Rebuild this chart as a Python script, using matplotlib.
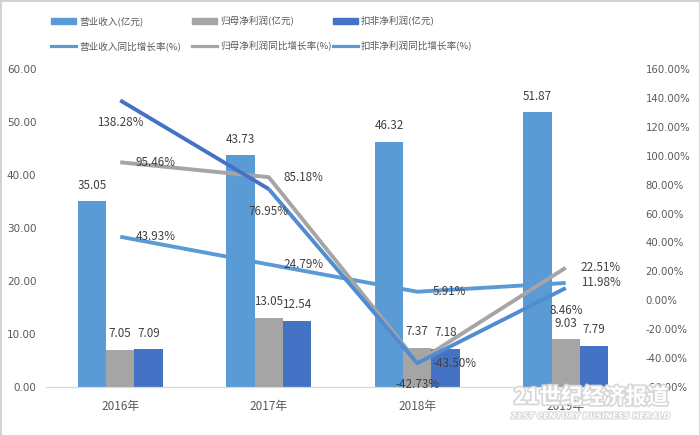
import numpy as np
import matplotlib
matplotlib.use('Agg')
from matplotlib import pyplot as plt
from matplotlib.lines import Line2D
from matplotlib.patches import Rectangle
import matplotlib.patheffects as pe

plt.rcParams['font.family'] = ['Noto Sans CJK SC', 'DejaVu Sans']

years = ['2016年', '2017年', '2018年', '2019年']
revenue = [35.05, 43.73, 46.32, 51.87]
parent_profit = [7.05, 13.05, 7.37, 9.03]
core_profit = [7.09, 12.54, 7.18, 7.79]
revenue_growth = [43.93, 24.79, 5.91, 11.98]
parent_growth = [95.46, 85.18, -42.73, 22.51]
core_growth = [138.28, 76.95, -43.50, 8.46]

bar_names = ['营业收入(亿元)', '归母净利润(亿元)', '扣非净利润(亿元)']
line_names = ['营业收入同比增长率(%)', '归母净利润同比增长率(%)', '扣非净利润同比增长率(%)']
left_ticks = [0, 10, 20, 30, 40, 50, 60]
right_ticks = [-60, -40, -20, 0, 20, 40, 60, 80, 100, 120, 140, 160]

# where each growth label sits relative to its point
revenue_pos = ['right', 'right', 'right', 'right']
parent_pos = ['right', 'right', 'below', 'right']
core_pos = ['below', 'below', 'right', 'below']

c_rev = '#5B9BD5'
c_gray = '#A5A5A5'
c_dark = '#4472C4'
c_core2 = '#4F8CD2'
txt = '#404040'
tick_c = '#595959'
lw = 2.8

fig = plt.figure(figsize=(7, 4.36), dpi=100)
ax = fig.add_axes([46 / 700, 49 / 436, 594 / 700, 318 / 436])
ax2 = ax.twinx()

x = np.arange(len(years))
w = 0.19
for off, vals, col in [(-w, revenue, c_rev), (0, parent_profit, c_gray), (w, core_profit, c_dark)]:
    ax.bar(x + off, vals, width=w, color=col, zorder=2)
    for xi, v in zip(x + off, vals):
        ax.annotate(f'{v:.2f}', (xi, v), xytext=(0, 11.5), textcoords='offset points',
                    ha='center', va='center', fontsize=8.4, color=txt)

ax.set_xlim(-0.5, 3.5)
ax.set_ylim(0, 60)
ax2.set_ylim(-60, 160)
ax.set_yticks(left_ticks)
ax.set_yticklabels([f'{t:.2f}' for t in left_ticks], family='DejaVu Sans', fontsize=7.5, color=tick_c)
ax2.set_yticks(right_ticks)
ax2.set_yticklabels([f'{t:.2f}%' for t in right_ticks], family='DejaVu Sans', fontsize=7.3, color=tick_c)
ax.set_xticks(x)
ax.set_xticklabels(years, fontsize=8.5, color=tick_c)
ax.tick_params(axis='both', length=0)
ax.tick_params(axis='y', pad=7)
ax.tick_params(axis='x', pad=9)
ax2.tick_params(axis='y', length=0, pad=4)
for a in (ax, ax2):
    for s in ['top', 'left', 'right']:
        a.spines[s].set_visible(False)
    a.spines['bottom'].set_color('#D9D9D9')

ax2.plot(x, revenue_growth, color=c_rev, lw=lw, solid_capstyle='butt', zorder=3)
ax2.plot(x, parent_growth, color=c_gray, lw=lw, solid_capstyle='butt', zorder=3)
ax2.plot(x[:2], core_growth[:2], color=c_dark, lw=lw, solid_capstyle='butt', zorder=3)
ax2.plot(x[1:], core_growth[1:], color=c_core2, lw=lw, solid_capstyle='butt', zorder=3)

for vals, poss in [(revenue_growth, revenue_pos), (parent_growth, parent_pos), (core_growth, core_pos)]:
    for xi, v, p in zip(x, vals, poss):
        if p == 'right':
            ax2.annotate(f'{v:.2f}%', (xi, v), xytext=(10.8, 0), textcoords='offset points',
                         ha='left', va='center', fontsize=8.4, color=txt, zorder=5)
        else:
            ax2.annotate(f'{v:.2f}%', (xi, v), xytext=(0, -16), textcoords='offset points',
                         ha='center', va='center', fontsize=8.4, color=txt, zorder=5)

# legend drawn by hand so the columns sit where the original has them
col_x = [51, 192, 333]
row_y = [21, 46]
bar_cols = [c_rev, c_gray, c_dark]
line_cols = [c_rev, c_gray, c_rev]
for i in range(3):
    x0 = col_x[i] / 700
    y0 = 1 - row_y[0] / 436
    fig.patches.append(Rectangle((x0, y0 - 3 / 436), 25 / 700, 6 / 436, transform=fig.transFigure,
                                 color=bar_cols[i]))
    fig.text(x0 + 28 / 700, y0, bar_names[i], ha='left', va='center', fontsize=6.9, color=tick_c)
    y1 = 1 - row_y[1] / 436
    fig.lines.append(Line2D([x0, x0 + 25 / 700], [y1, y1], transform=fig.transFigure,
                            color=line_cols[i], lw=2.3))
    fig.text(x0 + 28 / 700, y1, line_names[i], ha='left', va='center', fontsize=6.9, color=tick_c)

# watermark
fig.text(591 / 700, 1 - 397 / 436, '21世纪经济报道', ha='center', va='center', fontsize=15.5,
         fontweight='bold', color='white', zorder=10,
         path_effects=[pe.withStroke(linewidth=2.5, foreground='#D8D8D8')])
fig.text(591 / 700, 1 - 416 / 436, '21ST CENTURY BUSINESS HERALD', ha='center', va='center',
         fontsize=6, style='italic', fontweight='bold', color='white', family='DejaVu Sans', zorder=10,
         path_effects=[pe.withStroke(linewidth=1.5, foreground='#D8D8D8')])

fig.patches.append(Rectangle((0, 0), 1, 1, transform=fig.transFigure, fill=False,
                             edgecolor='#D0D0D0', lw=2))

fig.savefig('out.png', dpi=100)
